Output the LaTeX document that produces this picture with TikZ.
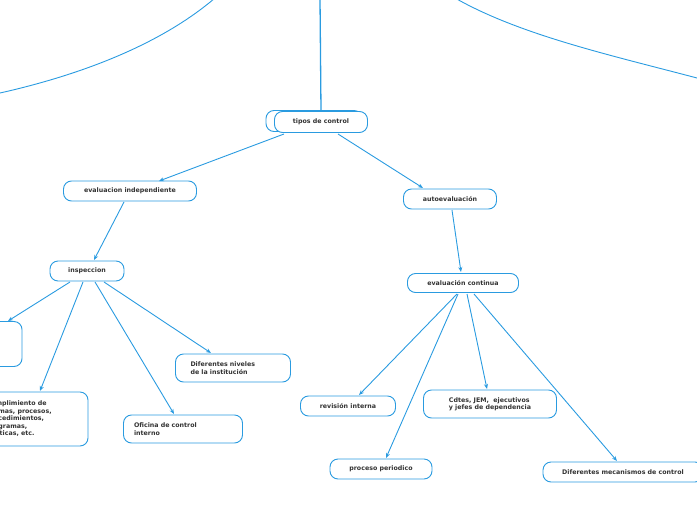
\documentclass[tikz,border=0pt]{standalone}
\usepackage{fontspec}
\setmainfont{DejaVu Sans}
\usetikzlibrary{arrows.meta}
\definecolor{lb}{HTML}{2A9BE0}
\definecolor{tx}{HTML}{333333}
\begin{document}
\begin{tikzpicture}[x=1pt,y=-1pt,
 box/.style={draw=lb,line width=0.9pt,rounded corners=8pt,fill=white,text=tx,font=\bfseries\fontsize{6.3}{7.4}\selectfont,inner sep=0pt,align=left},
 con/.style={draw=lb,line width=0.9pt,-{Stealth[length=5pt,width=4pt]}},
 lnk/.style={draw=lb,line width=0.9pt}]
\useasboundingbox (0,0) rectangle (697,520);
\draw[lnk] (215,-2) .. controls (160,45) and (80,75) .. (0,93);
\draw[lnk] (455,-2) .. controls (520,35) and (610,55) .. (697,78);
\node[box,minimum width=96pt,minimum height=21pt] (back) at (314,121) {};
\node[box,minimum width=93pt,minimum height=21pt] (tipos) at (321,122) {tipos de control};
\coordinate (top) at (320,-2);
\draw[lnk,line width=1.3pt] (tipos.north) -- (top);
\node[box,minimum width=133pt,minimum height=20pt] (ei) at (130,191) {evaluacion independiente};
\node[box,minimum width=74pt,minimum height=20pt] (insp) at (87,271) {inspeccion};
\node[box,minimum width=62pt,minimum height=45pt] (circ) at (-9,344) {};
\node[box,minimum width=148pt,minimum height=54pt] (cump) at (14,419) {};
\node[box,draw=none,fill=none,anchor=west] (cumpt) at (-14,419) {Cumplimiento de\\ normas, procesos,\\ procedimientos,\\ programas,\\ políticas, etc.};
\node[box,minimum width=115pt,minimum height=28pt,text width=85pt] (niv) at (233,368) {Diferentes niveles\\ de la institución};
\node[box,minimum width=119pt,minimum height=28pt,text width=98pt] (ofi) at (183,429) {Oficina de control\\ interno};
\node[box,minimum width=93pt,minimum height=20pt] (auto) at (450,199) {autoevaluación};
\node[box,minimum width=111pt,minimum height=19pt] (cont) at (463,283) {evaluación continua};
\node[box,minimum width=133pt,minimum height=28pt] (cdt) at (490,404) {Cdtes, JEM,~ ejecutivos\\ y jefes de dependencia};
\node[box,minimum width=95pt,minimum height=20pt] (rev) at (348,406) {revisión interna};
\node[box,minimum width=102pt,minimum height=20pt] (proc) at (381,469) {proceso periodico};
\node[box,minimum width=160pt,minimum height=20pt] (mec) at (623,472) {Diferentes mecanismos de control};
\draw[con] (284,134) -- (159,181);
\draw[con] (338,134) -- (423,188);
\draw[con] (124,202) -- (94,260);
\draw[con] (70,282) -- (8,321);
\draw[con] (83,282) -- (40,391);
\draw[con] (95,282) -- (174,414);
\draw[con] (104,282) -- (211,353);
\draw[con] (452,210) -- (461,272);
\draw[con] (457,294) -- (359,395);
\draw[con] (458,294) -- (386,458);
\draw[con] (467,294) -- (487,389);
\draw[con] (474,294) -- (617,461);
\end{tikzpicture}
\end{document}
